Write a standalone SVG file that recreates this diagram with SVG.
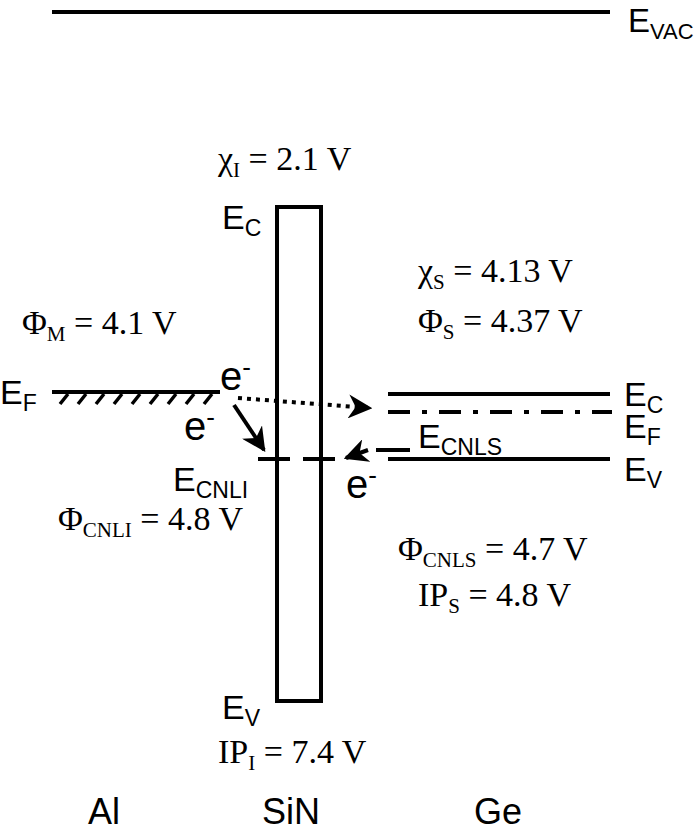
<svg xmlns="http://www.w3.org/2000/svg" width="700" height="837" viewBox="0 0 700 837">
<defs>
<style>
.s{font-family:"Liberation Sans",Arial,sans-serif;fill:#000}
.r{font-family:"Liberation Serif","Times New Roman",serif;fill:#000}
.l{stroke:#000;stroke-width:4;fill:none}
</style>
<marker id="a" viewBox="0 0 10 10" refX="9" refY="5" markerWidth="6" markerHeight="6" orient="auto"><path d="M0,0 L10,5 L0,10 L3,5 Z" fill="#000"/></marker>
</defs>
<g id="vac"><line class="l" x1="52" y1="12" x2="610" y2="12"/><text class="s" x="628" y="32" font-size="33">E<tspan font-size="22" dy="7">VAC</tspan></text></g>
<g id="sin">
<rect class="l" x="277" y="207" width="44" height="494"/>
<text class="r" x="218" y="170" font-size="34">χ<tspan font-size="21" dy="7">I</tspan><tspan dy="-7"> = 2.1 V</tspan></text>
<text class="s" x="222" y="229" font-size="34">E<tspan font-size="23" dy="7">C</tspan></text>
<text class="s" x="222" y="719" font-size="34">E<tspan font-size="23" dy="7">V</tspan></text>
<text class="r" x="218" y="763" font-size="34">IP<tspan font-size="21" dy="7">I</tspan><tspan dy="-7"> = 7.4 V</tspan></text>
<path class="l" d="M258,459 H290 M303,459 H335"/>
<text class="s" x="173" y="491" font-size="34">E<tspan font-size="23" dy="7">CNLI</tspan></text>
<text class="r" x="58" y="530" font-size="34">Φ<tspan font-size="21" dy="7">CNLI</tspan><tspan dy="-7"> = 4.8 V</tspan></text>
<text class="s" x="262" y="824" font-size="36">SiN</text>
</g>
<g id="al">
<line class="l" x1="52" y1="392" x2="220" y2="392"/>
<path stroke="#000" stroke-width="3.5" d="M68,394 l-8,10 M86,394 l-8,10 M104,394 l-8,10 M122,394 l-8,10 M140,394 l-8,10 M158,394 l-8,10 M176,394 l-8,10 M194,394 l-8,10 M212,394 l-8,10"/>
<text class="s" x="0" y="404" font-size="34">E<tspan font-size="23" dy="7">F</tspan></text>
<text class="r" x="22" y="334" font-size="34">Φ<tspan font-size="21" dy="7">M</tspan><tspan dy="-7"> = 4.1 V</tspan></text>
<text class="s" x="220" y="390" font-size="40">e<tspan font-size="26" dy="-14">-</tspan></text>
<text class="s" x="184" y="440" font-size="40">e<tspan font-size="26" dy="-14">-</tspan></text>
<text class="s" x="88" y="824" font-size="36">Al</text>
</g>
<g id="ge">
<line class="l" x1="388" y1="394" x2="610" y2="394"/>
<line class="l" x1="388" y1="412" x2="612" y2="412" stroke-dasharray="22,12,5,12"/>
<line class="l" x1="388" y1="459" x2="610" y2="459"/>
<line class="l" x1="376" y1="450" x2="410" y2="450"/>
<text class="s" x="624" y="406" font-size="34">E<tspan font-size="23" dy="7">C</tspan></text>
<text class="s" x="624" y="438" font-size="34">E<tspan font-size="23" dy="7">F</tspan></text>
<text class="s" x="624" y="481" font-size="34">E<tspan font-size="23" dy="7">V</tspan></text>
<text class="s" x="418" y="448" font-size="34">E<tspan font-size="23" dy="7">CNLS</tspan></text>
<text class="r" x="418" y="282" font-size="34">χ<tspan font-size="21" dy="7">S</tspan><tspan dy="-7"> = 4.13 V</tspan></text>
<text class="r" x="418" y="332" font-size="34">Φ<tspan font-size="21" dy="7">S</tspan><tspan dy="-7"> = 4.37 V</tspan></text>
<text class="r" x="398" y="560" font-size="34">Φ<tspan font-size="21" dy="7">CNLS</tspan><tspan dy="-7"> = 4.7 V</tspan></text>
<text class="r" x="418" y="606" font-size="34">IP<tspan font-size="21" dy="7">S</tspan><tspan dy="-7"> = 4.8 V</tspan></text>
<text class="s" x="346" y="498" font-size="40">e<tspan font-size="26" dy="-14">-</tspan></text>
<text class="s" x="474" y="824" font-size="36">Ge</text>
</g>
<g id="connectors">
<line class="l" x1="238" y1="398" x2="370" y2="408" stroke-dasharray="4,5" stroke-width="3.5" marker-end="url(#a)"/>
<line class="l" x1="234" y1="405" x2="264" y2="450" marker-end="url(#a)"/>
<line class="l" x1="368" y1="450" x2="346" y2="458" marker-end="url(#a)"/>
</g>
</svg>
